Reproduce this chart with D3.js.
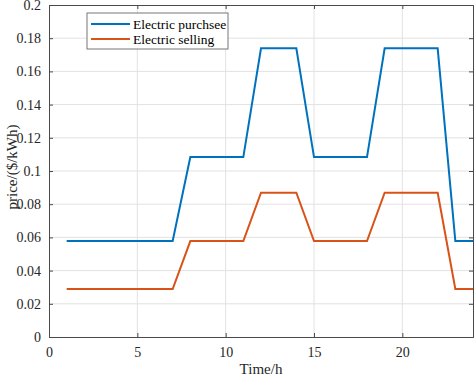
<!DOCTYPE html>
<html><head><meta charset="utf-8">
<script src="https://cdn.jsdelivr.net/npm/d3@7"></script>
<style>body{margin:0;background:#fff}svg{display:block}</style>
</head><body>
<script>
const hours = [1,2,3,4,5,6,7,8,9,10,11,12,13,14,15,16,17,18,19,20,21,22,23,24];
const purchase = [0.0578,0.0578,0.0578,0.0578,0.0578,0.0578,0.0578,0.1084,0.1084,0.1084,0.1084,0.1739,0.1739,0.1739,0.1084,0.1084,0.1084,0.1084,0.1739,0.1739,0.1739,0.1739,0.0578,0.0578];
const selling = [0.0289,0.0289,0.0289,0.0289,0.0289,0.0289,0.0289,0.0578,0.0578,0.0578,0.0578,0.0869,0.0869,0.0869,0.0578,0.0578,0.0578,0.0578,0.0869,0.0869,0.0869,0.0869,0.0289,0.0289];
const xTicks = [0,5,10,15,20];
const yTicks = [0,0.02,0.04,0.06,0.08,0.1,0.12,0.14,0.16,0.18,0.2];
const seriesNames = ["Electric purchsee","Electric selling"];
const colors = ["#0072BD","#D95319"];

const W=474,H=376;
const L=49,R=473,T=5,B=337;
const svg=d3.select("body").append("svg").attr("width",W).attr("height",H);
const x=d3.scaleLinear().domain([0,24]).range([L,R]);
const y=d3.scaleLinear().domain([0,0.2]).range([B,T]);
const font="'Liberation Serif','Times New Roman',serif";
const axisCol="#4a4a4a";

// grid
const g=svg.append("g");
g.selectAll(".vx").data(xTicks.filter(d=>d>0)).enter().append("line")
 .attr("x1",d=>x(d)).attr("x2",d=>x(d)).attr("y1",T).attr("y2",B)
 .attr("stroke","#e2e2e2").attr("stroke-width",1);
g.selectAll(".hy").data(yTicks.filter(d=>d>0&&d<0.2)).enter().append("line")
 .attr("x1",L).attr("x2",R).attr("y1",d=>y(d)).attr("y2",d=>y(d))
 .attr("stroke","#e2e2e2").attr("stroke-width",1);

// lines
const line=d3.line().x((d,i)=>x(hours[i])).y(d=>y(d));
[purchase,selling].forEach((s,k)=>{
  svg.append("path").datum(s).attr("d",line).attr("fill","none")
   .attr("stroke",colors[k]).attr("stroke-width",2);
});

// axes
const xa=svg.append("g").attr("transform",`translate(0,${B})`)
 .call(d3.axisBottom(x).tickValues(xTicks).tickSize(-4).tickPadding(10).tickFormat(d3.format("d")));
const ya=svg.append("g").attr("transform",`translate(${L},0)`)
 .call(d3.axisLeft(y).tickValues(yTicks).tickSize(-4).tickPadding(8).tickFormat(d=>d===0?"0":String(+d.toFixed(2))));
const xt=svg.append("g").attr("transform",`translate(0,${T})`)
 .call(d3.axisTop(x).tickValues(xTicks).tickSize(-4).tickFormat(""));
const yr=svg.append("g").attr("transform",`translate(${R},0)`)
 .call(d3.axisRight(y).tickValues(yTicks).tickSize(-4).tickFormat(""));
[xa,ya,xt,yr].forEach(a=>{
  a.select(".domain").attr("stroke",axisCol).attr("stroke-width",1);
  a.selectAll(".tick line").attr("stroke",axisCol);
  a.selectAll("text").attr("font-family",font).attr("font-size",14).attr("fill","#262626");
});

// labels
svg.append("text").attr("x",(L+R)/2).attr("y",374).attr("text-anchor","middle")
 .attr("font-family",font).attr("font-size",15).attr("fill","#262626").text("Time/h");
svg.append("text").attr("transform",`translate(17,167) rotate(-90)`).attr("text-anchor","middle")
 .attr("font-family",font).attr("font-size",15).attr("fill","#262626").text("price/($/kWh)");

// legend
const lg=svg.append("g");
lg.append("rect").attr("x",87).attr("y",13).attr("width",141).attr("height",36)
 .attr("fill","#fff").attr("stroke","#777").attr("stroke-width",1);
seriesNames.forEach((n,i)=>{
  const yy=24+i*15;
  lg.append("line").attr("x1",91).attr("x2",130).attr("y1",yy).attr("y2",yy)
   .attr("stroke",colors[i]).attr("stroke-width",2);
  lg.append("text").attr("x",133).attr("y",yy+4.5).attr("font-family",font).attr("font-size",13.5)
   .attr("fill","#000").text(n);
});
</script>
</body></html>
